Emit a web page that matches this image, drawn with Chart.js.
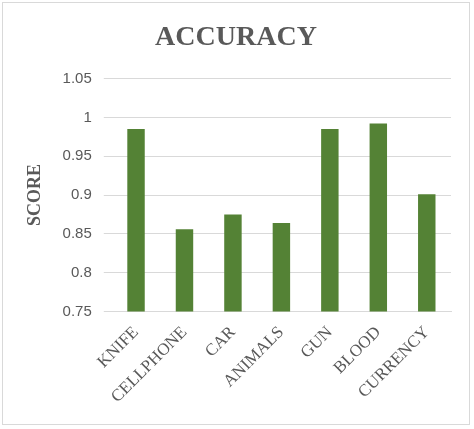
<!DOCTYPE html>
<html><head><script src="https://cdn.jsdelivr.net/npm/chart.js@4"></script>
<style>body{margin:0;background:#fff}#w{position:absolute;left:2px;top:2px;width:468px;height:423px;border:1px solid #d9d9d9;box-sizing:border-box}</style></head>
<body><div id="w"><canvas id="c"></canvas></div>
<script>
const categories=["KNIFE","CELLPHONE","CAR","ANIMALS","GUN","BLOOD","CURRENCY"];
const scores=[0.985,0.856,0.875,0.864,0.985,0.992,0.901];
const yTicks=[0.75,0.8,0.85,0.9,0.95,1,1.05];
new Chart(document.getElementById('c'),{type:'bar',
data:{labels:categories,datasets:[{data:scores,backgroundColor:'#548235',categoryPercentage:0.8,barPercentage:0.45}]},
options:{responsive:true,maintainAspectRatio:false,animation:false,
layout:{padding:{left:18,right:18,top:14,bottom:14}},
plugins:{legend:{display:false},title:{display:true,text:'ACCURACY',color:'#595959',font:{family:'Liberation Serif',size:28,weight:'bold'},padding:{top:4,bottom:24}}},
scales:{x:{grid:{display:false},border:{color:'#d9d9d9'},ticks:{color:'#595959',maxRotation:45,minRotation:45,font:{family:'Liberation Serif',size:17}}},
y:{min:0.75,max:1.05,afterBuildTicks:a=>{a.ticks=yTicks.map(v=>({value:v}))},grid:{color:'#d9d9d9'},border:{display:false},
ticks:{color:'#595959',padding:12,font:{family:'Liberation Sans',size:15},callback:v=>String(+v.toFixed(2))},
title:{display:true,text:'SCORE',color:'#595959',font:{family:'Liberation Serif',size:18,weight:'bold'}}}}}});
</script></body></html>
